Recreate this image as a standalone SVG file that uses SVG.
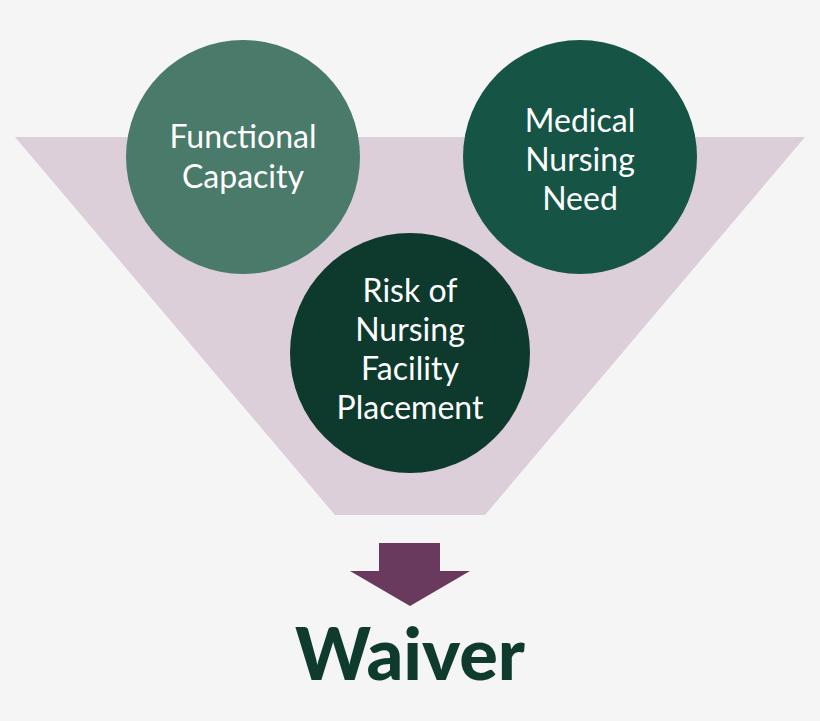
<svg xmlns="http://www.w3.org/2000/svg" width="820" height="721" viewBox="0 0 820 721">
<style>
.t{font-family:Lato,"Open Sans",sans-serif;font-size:32px;fill:#fff;text-anchor:middle}
</style>
<rect width="820" height="721" fill="#f5f5f5"/>
<g id="funnel"><polygon points="15,137 805,137 485,515 335,515" fill="#dccfd9"/></g>
<g id="functional"><circle cx="243" cy="157" r="117" fill="#4a7a6a"/>
<text class="t" x="243" y="148">Functional</text><text class="t" x="243" y="188">Capacity</text></g>
<g id="medical"><circle cx="580" cy="157" r="117" fill="#165446"/>
<text class="t" x="580" y="132">Medical</text><text class="t" x="580" y="171">Nursing</text><text class="t" x="580" y="210">Need</text></g>
<g id="risk"><circle cx="410" cy="353" r="120" fill="#0e3a2e"/>
<text class="t" x="410" y="302">Risk of</text><text class="t" x="410" y="341">Nursing</text><text class="t" x="410" y="380">Facility</text><text class="t" x="410" y="419">Placement</text></g>
<g id="connectors"><polygon points="379,543 440,543 440,571 470,571 410,606 350,571 379,571" fill="#6a3a5e"/></g>
<g id="waiver"><text x="410" y="680" font-family="Lato,sans-serif" font-weight="900" font-size="72" fill="#0f3b2f" text-anchor="middle">Waiver</text></g>
</svg>
